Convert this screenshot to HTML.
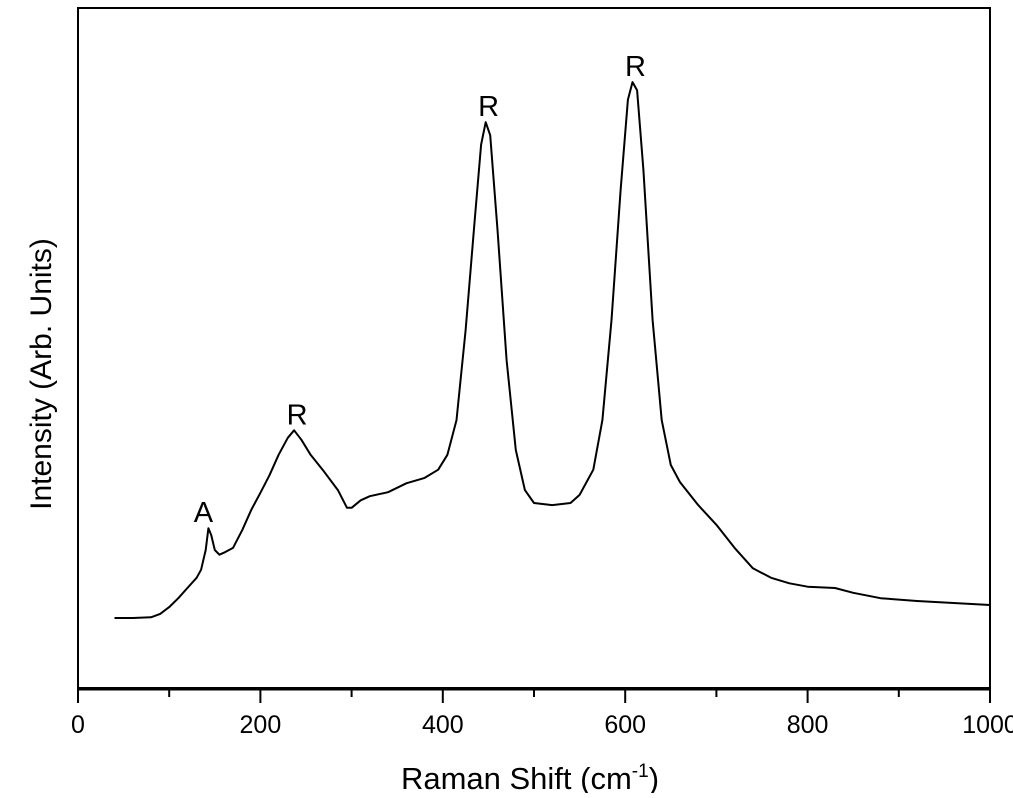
<!DOCTYPE html>
<html><head><meta charset="utf-8"><style>
body{margin:0;background:#fff;}
svg text{font-family:"Liberation Sans",sans-serif;fill:#000;}
</style></head><body>
<svg width="1013" height="793" viewBox="0 0 1013 793">
<g id="plot"></g>
<script>
const shifts=[40,60,80,90,100,110,120,130,135,140,143,146,150,155,160,170,180,190,200,210,220,230,237,245,255,270,285,295,300,310,320,340,360,380,395,405,415,425,435,442,447,452,460,470,480,490,500,520,540,550,565,575,585,595,603,608,613,620,630,640,650,660,680,700,720,740,760,780,800,830,850,880,920,960,1000];
const intensity=[10.3,10.3,10.4,10.9,11.9,13.2,14.7,16.2,17.4,20.3,23.5,22.5,20.3,19.6,19.9,20.6,23.2,26.2,28.7,31.3,34.3,36.8,37.9,36.5,34.3,31.8,29.1,26.5,26.5,27.6,28.2,28.8,30.1,30.9,32.1,34.3,39.4,52.6,68.8,79.9,83.2,81.3,67.4,48.2,35.0,29.1,27.2,26.9,27.2,28.4,32.1,39.4,54.1,73.2,86.5,89.1,87.9,76.2,54.1,39.4,32.8,30.3,26.9,24.0,20.6,17.6,16.2,15.4,14.9,14.7,14.0,13.2,12.8,12.5,12.2];
const xTicks=[0,200,400,600,800,1000];
const peakLabels=["A","R","R","R"];
const peakX=[143,237,447,608];
const peakY=[23.5,37.9,83.2,89.1];
const L=78,R=990,T=8,B=688;
const sx=v=>L+(v-0)/(1000-0)*(R-L);
const sy=v=>B-v/100*(B-T);
const NS="http://www.w3.org/2000/svg";
const g=document.getElementById('plot');
function mk(tag,attrs,txt,parent){const e=document.createElementNS(NS,tag);for(const k in attrs)e.setAttribute(k,attrs[k]);if(txt!==undefined)e.textContent=txt;(parent||g).appendChild(e);return e;}
const frame=mk('rect',{x:L,y:T,width:R-L,height:B-T,fill:'none',stroke:'#000','stroke-width':2});


const xa=mk('line',{x1:L-1,y1:B+1,x2:R+1,y2:B+1,stroke:'#000','stroke-width':3});


for(let v=0;v<=1000;v+=100){
  const major=v%200===0;
  const t=mk('line',{x1:sx(v),y1:B,x2:sx(v),y2:B+(major?15:9),stroke:'#000','stroke-width':2});
  
  
}
xTicks.forEach(v=>{
  const t=mk('text',{x:sx(v),y:733,'font-size':25,'text-anchor':'middle'},String(v));
  
  
});
const xt=mk('text',{x:530,y:789,'font-size':31,'text-anchor':'middle'});


mk('tspan',{},'Raman Shift (cm',xt);
mk('tspan',{dy:-12,'font-size':19},'-1',xt);
mk('tspan',{dy:12},')',xt);
const yt=mk('text',{x:0,y:0,'font-size':30,'text-anchor':'middle',transform:'translate(51,374) rotate(-90)'},'Intensity (Arb. Units)');


const d=shifts.map((s,i)=>(i?'L':'M')+sx(s).toFixed(1)+','+sy(intensity[i]).toFixed(1)).join(' ');
const p=mk('path',{d:d,fill:'none',stroke:'#000','stroke-width':2,'stroke-linejoin':'round'});


peakLabels.forEach((lab,i)=>{
  const t=mk('text',{x:sx(peakX[i])+(i==0?-5:3),y:sy(peakY[i])-6,'font-size':29,'text-anchor':'middle'},lab);
  
  
});
</script>
</svg>
</body></html>
